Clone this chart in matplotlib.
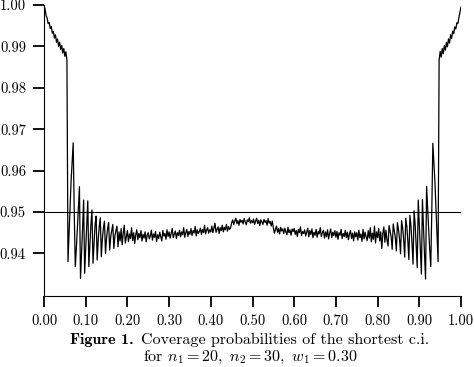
import matplotlib
matplotlib.use("Agg")
import matplotlib.pyplot as plt
import numpy as np

plt.rcParams['font.family'] = 'cmr10'
plt.rcParams['mathtext.fontset'] = 'cm'
plt.rcParams['axes.unicode_minus'] = False

cov_left_tail = [1.0000, 0.9990, 0.9975, 0.9968, 0.9955, 0.9958, 0.9943, 0.9948,
                 0.9932, 0.9936, 0.9920, 0.9928, 0.9910, 0.9918, 0.9900, 0.9910,
                 0.9893, 0.9902, 0.9884, 0.9895, 0.9876, 0.9887, 0.9866]
cov_left_wave = [0.9380, 0.9445, 0.9510, 0.9575, 0.9620, 0.9667, 0.9500, 0.9368,
                 0.9410, 0.9460, 0.9510, 0.9561, 0.9340, 0.9400, 0.9460, 0.9529,
                 0.9352, 0.9410, 0.9470, 0.9527, 0.9368, 0.9420, 0.9470, 0.9505,
                 0.9376, 0.9425, 0.9470, 0.9490, 0.9384, 0.9432, 0.9465, 0.9486,
                 0.9392, 0.9435, 0.9462, 0.9478, 0.9400, 0.9437, 0.9460, 0.9475,
                 0.9408, 0.9440, 0.9456, 0.9470, 0.9412, 0.9442, 0.9455, 0.9466,
                 0.9416]
cov_band_left = [0.9452, 0.9430, 0.9460, 0.9421, 0.9449, 0.9468, 0.9425, 0.9440,
                 0.9455, 0.9428, 0.9447, 0.9436, 0.9462, 0.9431, 0.9450, 0.9424, 0.9445, 0.9457,
                 0.9433, 0.9448, 0.9438, 0.9455, 0.9430, 0.9446, 0.9437, 0.9452, 0.9428, 0.9444,
                 0.9450, 0.9435, 0.9442, 0.9456, 0.9432, 0.9447, 0.9439, 0.9453, 0.9429, 0.9445,
                 0.9436, 0.9451, 0.9440, 0.9430, 0.9455, 0.9442, 0.9448, 0.9434, 0.9457, 0.9441,
                 0.9452, 0.9437, 0.9449, 0.9460, 0.9438, 0.9447, 0.9454, 0.9436, 0.9450, 0.9443,
                 0.9456, 0.9440, 0.9452, 0.9445, 0.9462, 0.9439, 0.9450, 0.9458, 0.9441, 0.9453,
                 0.9446, 0.9460, 0.9443, 0.9455, 0.9449, 0.9465, 0.9442, 0.9457, 0.9448, 0.9453,
                 0.9461, 0.9446, 0.9458, 0.9450, 0.9468, 0.9447, 0.9456, 0.9462, 0.9449, 0.9457,
                 0.9452, 0.9466, 0.9450, 0.9461, 0.9473, 0.9451, 0.9458, 0.9464, 0.9448, 0.9462,
                 0.9455, 0.9468, 0.9452, 0.9463, 0.9457, 0.9470, 0.9454, 0.9465, 0.9458, 0.9462]
cov_plateau = [0.9474, 0.9481, 0.9470, 0.9478, 0.9485, 0.9472, 0.9479, 0.9468, 0.9482, 0.9475,
               0.9480, 0.9471, 0.9484, 0.9476, 0.9469, 0.9481, 0.9477, 0.9486, 0.9473, 0.9479,
               0.9474, 0.9483, 0.9470, 0.9478, 0.9485, 0.9472, 0.9480, 0.9467, 0.9481, 0.9476,
               0.9470, 0.9482, 0.9475, 0.9479, 0.9468, 0.9484, 0.9473, 0.9477, 0.9466, 0.9478]
cov_band_right = [0.9462, 0.9449, 0.9458, 0.9466, 0.9451, 0.9460, 0.9447, 0.9463, 0.9454, 0.9459,
                  0.9448, 0.9461, 0.9452, 0.9445, 0.9463, 0.9450, 0.9457, 0.9444, 0.9459, 0.9453,
                  0.9460, 0.9446, 0.9455, 0.9441, 0.9458, 0.9450, 0.9464, 0.9443, 0.9453, 0.9448,
                  0.9457, 0.9442, 0.9452, 0.9461, 0.9440, 0.9455, 0.9446, 0.9459, 0.9438, 0.9451,
                  0.9444, 0.9458, 0.9439, 0.9453, 0.9447, 0.9462, 0.9441, 0.9450, 0.9456, 0.9437,
                  0.9452, 0.9440, 0.9457, 0.9435, 0.9449, 0.9459, 0.9438, 0.9451, 0.9443, 0.9455,
                  0.9439, 0.9453, 0.9434, 0.9450, 0.9444, 0.9458, 0.9436, 0.9448, 0.9441, 0.9456,
                  0.9438, 0.9451, 0.9433, 0.9447, 0.9455, 0.9436, 0.9449, 0.9430, 0.9452, 0.9440,
                  0.9450, 0.9432, 0.9456, 0.9438, 0.9447, 0.9429, 0.9458, 0.9435, 0.9451, 0.9440,
                  0.9431, 0.9455, 0.9437, 0.9462, 0.9428, 0.9449, 0.9434, 0.9466, 0.9425, 0.9452,
                  0.9438, 0.9460, 0.9430, 0.9452, 0.9412, 0.9447, 0.9464, 0.9427, 0.9456, 0.9433]
cov_right_wave = [0.9418, 0.9467, 0.9454, 0.9440, 0.9410, 0.9471, 0.9455, 0.9438,
                  0.9406, 0.9474, 0.9458, 0.9436, 0.9399, 0.9479, 0.9463, 0.9433,
                  0.9391, 0.9485, 0.9466, 0.9430, 0.9385, 0.9492, 0.9468, 0.9424,
                  0.9374, 0.9503, 0.9471, 0.9418, 0.9366, 0.9529, 0.9468, 0.9408,
                  0.9350, 0.9530, 0.9462, 0.9398, 0.9338, 0.9562, 0.9508, 0.9458,
                  0.9408, 0.9368, 0.9505, 0.9666, 0.9618, 0.9572, 0.9508, 0.9442,
                  0.9380]
cov_right_tail = [0.9866, 0.9888, 0.9874, 0.9895, 0.9882, 0.9902, 0.9891, 0.9910,
                  0.9899, 0.9918, 0.9908, 0.9928, 0.9919, 0.9937, 0.9931, 0.9947,
                  0.9942, 0.9957, 0.9955, 0.9970, 0.9982, 0.9995]

cov = np.array(cov_left_tail + cov_left_wave + cov_band_left + cov_plateau
               + cov_band_right + cov_right_wave + cov_right_tail)
p = np.linspace(0, 1, len(cov))

xticks = np.arange(0, 1.01, 0.1)
yticks = np.arange(0.94, 1.001, 0.01)

fig = plt.figure(figsize=(4.74, 3.67), dpi=100)
ax = fig.add_axes([44/474, 1-296/367, 417/474, 291/367])

ax.plot(p, cov, color='black', lw=0.9)
ax.axhline(0.95, color='black', lw=0.8)

ax.set_xlim(0, 1)
ax.set_ylim(0.92971, 1.0)
ax.spines['top'].set_visible(False)
ax.spines['right'].set_visible(False)
ax.set_xticks(xticks)
ax.set_xticklabels(["%.2f" % t for t in xticks])
ax.set_yticks(yticks)
ax.set_yticklabels(["%.2f" % t for t in yticks])
ax.tick_params(direction='out', length=8, width=1.3, labelsize=10.5, pad=5)

# caption: bold label followed by plain text, centred together
cap_y = 0.074
t_bold = fig.text(0, cap_y, "Figure 1.", family='cmb10', fontsize=11.5, va='center')
t_rest = fig.text(0, cap_y, "Coverage probabilities of the shortest c.i.",
                  fontsize=11.5, va='center')
fig.canvas.draw()
r = fig.canvas.get_renderer()
w_bold = t_bold.get_window_extent(r).width / fig.bbox.width
w_rest = t_rest.get_window_extent(r).width / fig.bbox.width
gap = 7 / 474
x0 = 0.527 - (w_bold + gap + w_rest) / 2
t_bold.set_x(x0)
t_rest.set_x(x0 + w_bold + gap)

fig.text(0.527, 0.025, r"for $n_1 = 20,\ n_2 = 30,\ w_1 = 0.30$",
         ha='center', va='center', fontsize=11.5)

fig.savefig("out.png", dpi=100)
